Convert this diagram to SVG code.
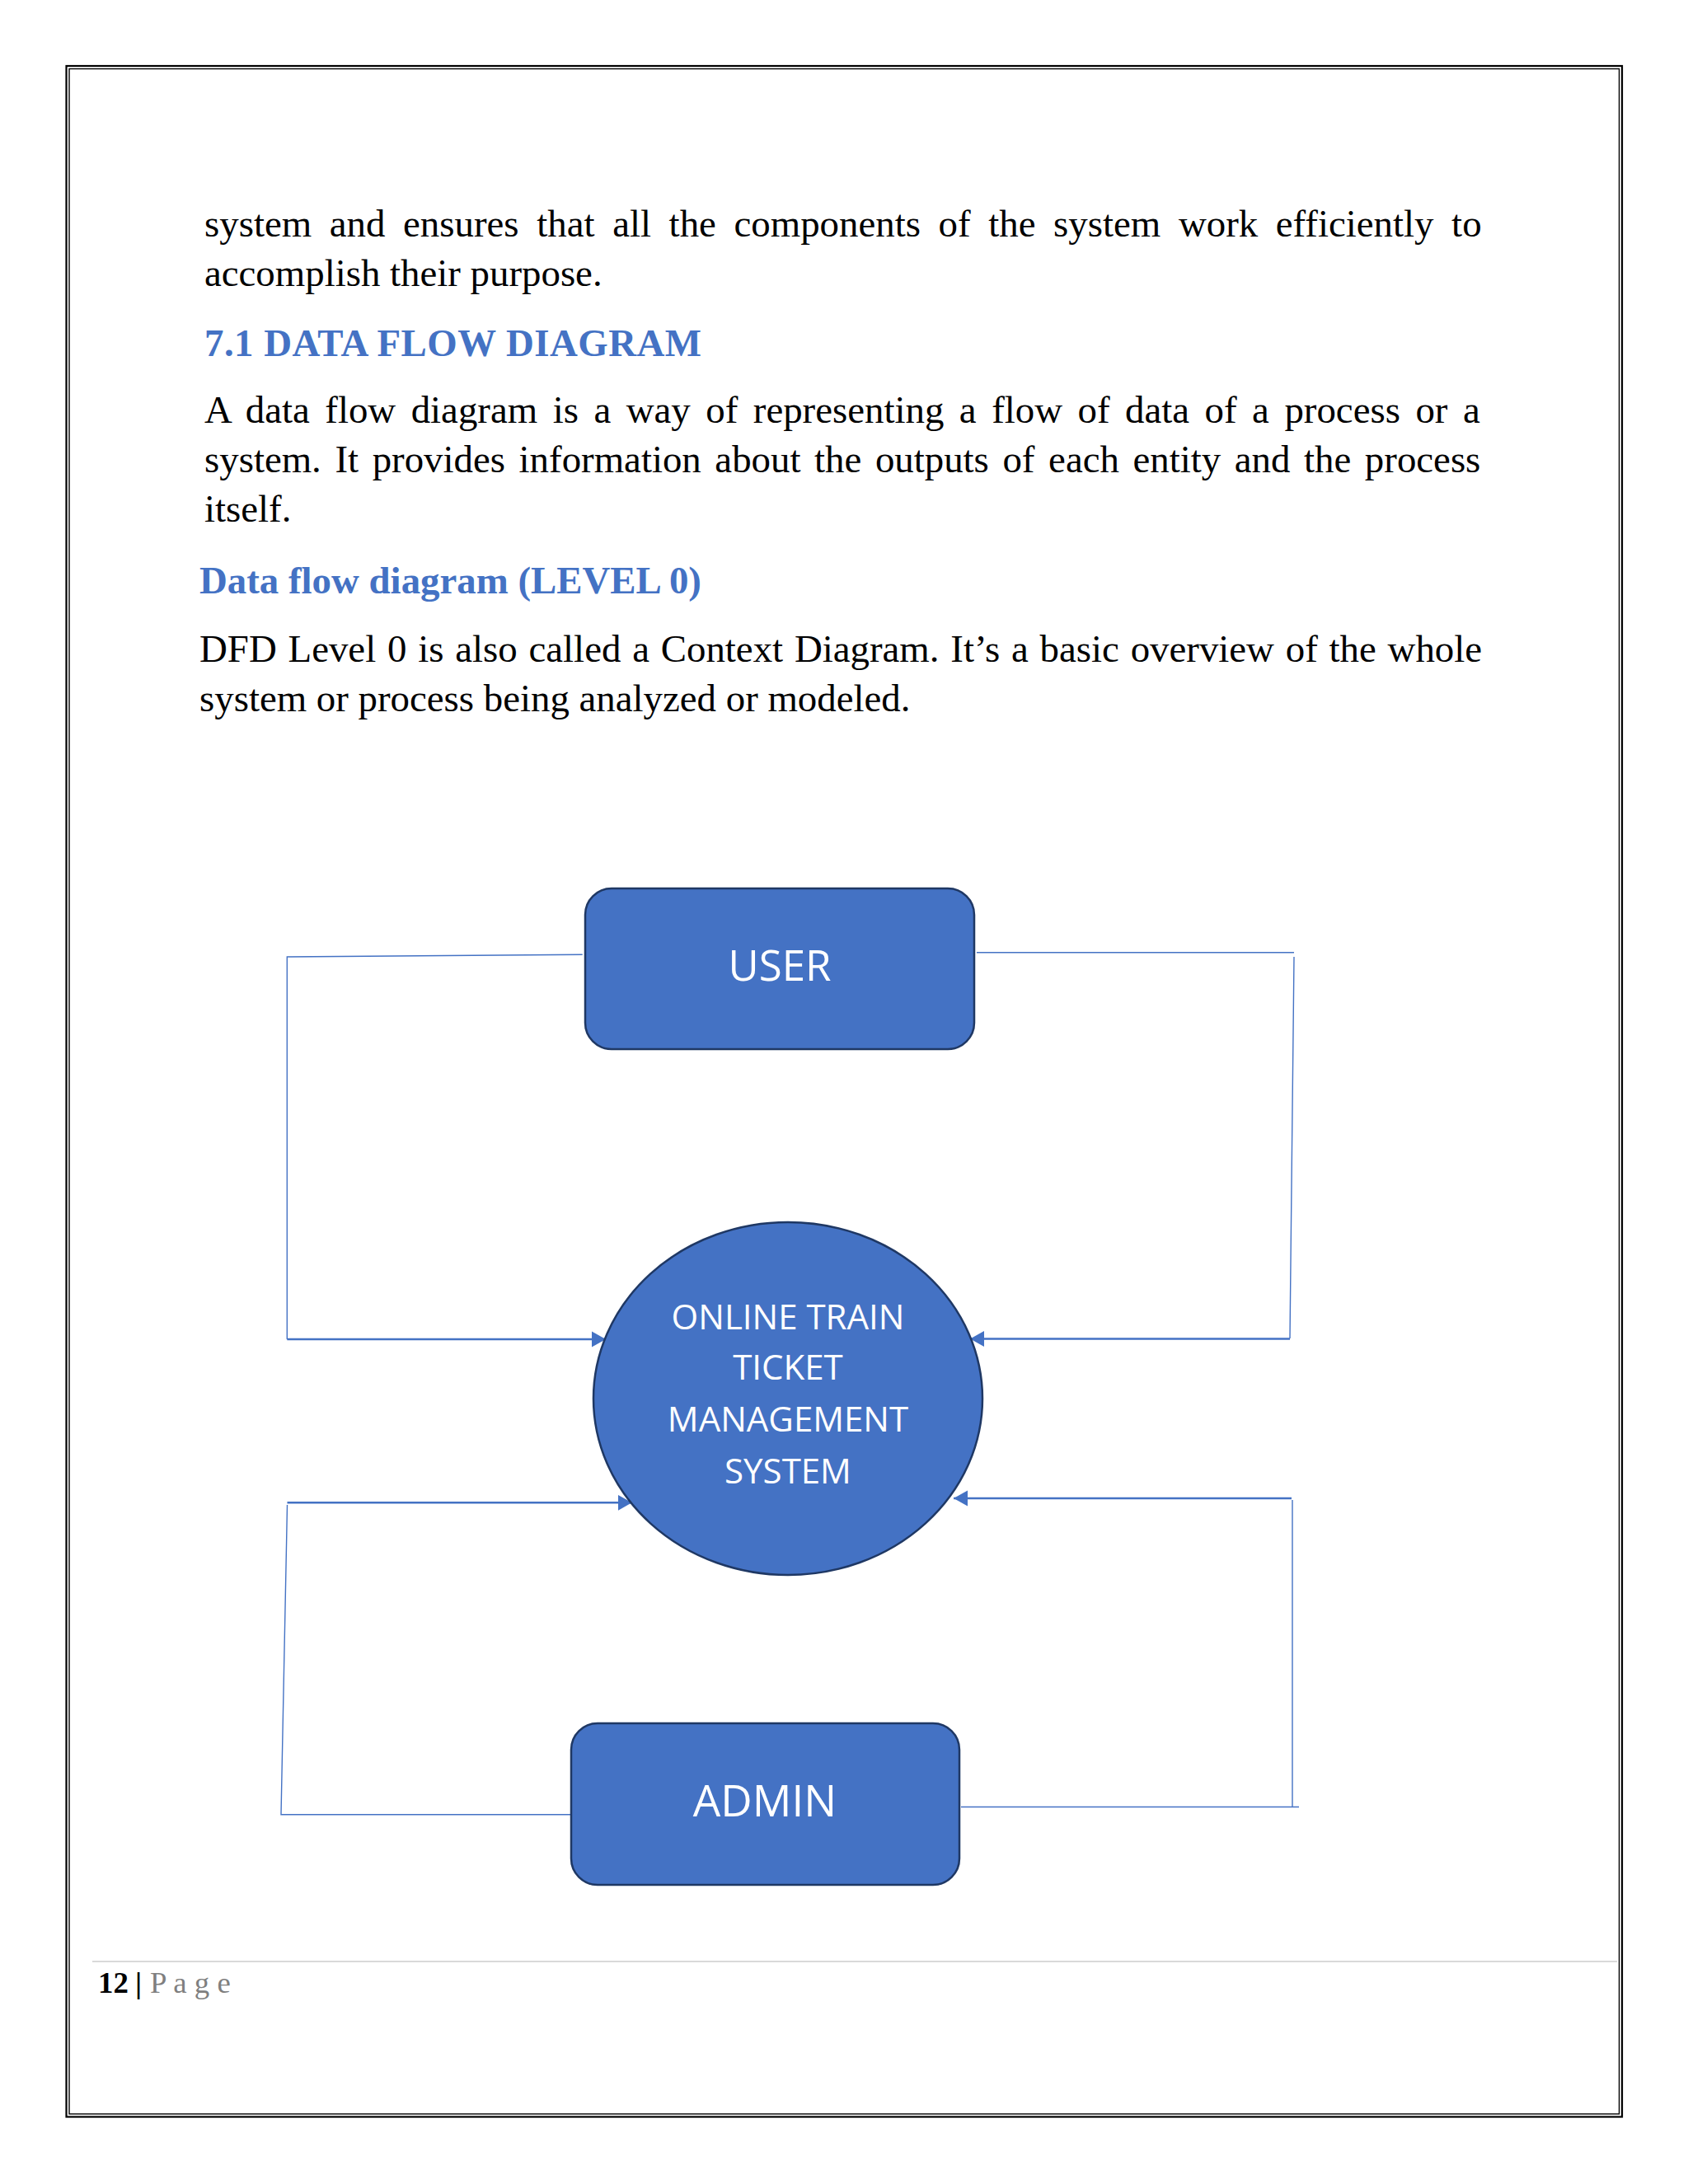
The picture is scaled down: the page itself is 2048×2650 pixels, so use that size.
<svg xmlns="http://www.w3.org/2000/svg" width="2048" height="2650" viewBox="0 0 2048 2650">
<style>
.body{font-family:"Liberation Serif","Times New Roman",serif;font-size:46.85px;fill:#000}
.head{font-family:"Liberation Serif","Times New Roman",serif;font-size:46.85px;font-weight:bold;fill:#4472C4}
.node{fill:#4472C4;stroke:#1F3864;stroke-width:2.5}
.lbl{font-family:"Open Sans","Noto Sans",sans-serif;fill:#fff;text-anchor:middle}
.thin{fill:none;stroke:#4472C4;stroke-width:1.4}
.arr{fill:none;stroke:#4472C4;stroke-width:2.6}
.foot{font-family:"Liberation Serif","Times New Roman",serif;font-size:36.8px}
</style>
<defs>
<marker id="ah" markerUnits="userSpaceOnUse" markerWidth="20" markerHeight="22" refX="17" refY="10" orient="auto">
<path d="M0,0.5 L17,10 L0,19.5 Z" fill="#4472C4"/>
</marker>
</defs>
<rect width="2048" height="2650" fill="#fff"/>
<g id="page-border" fill="none" stroke="#000">
<rect x="80.5" y="80" width="1887.5" height="2488.5" stroke-width="2.2"/>
<rect x="84" y="83.5" width="1880.5" height="2481.5" stroke-width="1.4"/>
</g>
<g id="text">
<text class="body" x="248" y="287" word-spacing="9.95">system and ensures that all the components of the system work efficiently to</text>
<text class="body" x="248" y="347">accomplish their purpose.</text>
<text class="head" x="248" y="432" textLength="603" lengthAdjust="spacing">7.1 DATA FLOW DIAGRAM</text>
<text class="body" x="248" y="513" word-spacing="6.8">A data flow diagram is a way of representing a flow of data of a process or a</text>
<text class="body" x="248" y="573" word-spacing="4.9">system. It provides information about the outputs of each entity and the process</text>
<text class="body" x="248" y="633">itself.</text>
<text class="head" x="242" y="720">Data flow diagram (LEVEL 0)</text>
<text class="body" x="242" y="803" word-spacing="2.1">DFD Level 0 is also called a Context Diagram. It’s a basic overview of the whole</text>
<text class="body" x="242" y="863">system or process being analyzed or modeled.</text>
</g>
<g id="connectors">
<path class="thin" d="M706.7,1158.3 L348.3,1161 L348.3,1625"/>
<path class="arr" d="M348.3,1625 L735,1625" marker-end="url(#ah)"/>
<path class="thin" d="M1185,1155.7 L1570,1155.7 M1570,1161 L1565,1624"/>
<path class="arr" d="M1565,1624.5 L1177,1624.5" marker-end="url(#ah)"/>
<path class="thin" d="M692.6,2201.7 L341,2201.7 L348.5,1826"/>
<path class="arr" d="M348.5,1823.3 L766.7,1823.3" marker-end="url(#ah)"/>
<path class="thin" d="M1166,2192.5 L1576,2192.5 M1568,2192 L1568,1820"/>
<path class="arr" d="M1567,1818 L1157,1818" marker-end="url(#ah)"/>
</g>
<g id="node-user">
<rect class="node" x="710" y="1078" width="472" height="195" rx="32" ry="32"/>
<text class="lbl" x="946" y="1189.5" font-size="51">USER</text>
</g>
<g id="node-system">
<ellipse class="node" cx="956" cy="1697" rx="236" ry="214"/>
<text class="lbl" x="956" y="1613" font-size="42">ONLINE TRAIN</text>
<text class="lbl" x="956" y="1674" font-size="42">TICKET</text>
<text class="lbl" x="956" y="1737" font-size="42">MANAGEMENT</text>
<text class="lbl" x="956" y="1800" font-size="42">SYSTEM</text>
</g>
<g id="node-admin">
<rect class="node" x="693" y="2091" width="471" height="196" rx="32" ry="32"/>
<text class="lbl" x="928" y="2204" font-size="53">ADMIN</text>
</g>
<g id="footer">
<line x1="112" y1="2380" x2="1962" y2="2380" stroke="#d9d9d9" stroke-width="2"/>
<text class="foot" x="119" y="2418"><tspan font-weight="bold" fill="#000">12</tspan><tspan x="164" font-weight="bold" fill="#000">|</tspan><tspan x="182" fill="#7f7f7f">P a g e</tspan></text>
</g>
</svg>
